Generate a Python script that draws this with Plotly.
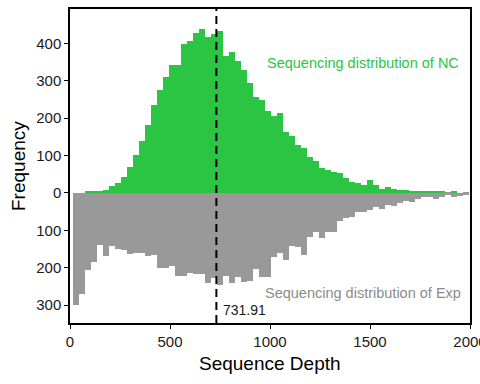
import plotly.graph_objects as go

bin_centers = list(range(30, 1981, 30))
nc_counts = [0, 0, 5, 3, 5, 8, 19, 27, 43, 70, 102, 139, 182, 235, 275, 310, 342, 342,
             398, 406, 428, 438, 417, 425, 433, 366, 377, 353, 329, 294, 257, 249, 219,
             206, 214, 163, 152, 128, 120, 96, 86, 67, 61, 56, 53, 40, 29, 27, 21, 35,
             21, 11, 16, 11, 8, 8, 5, 5, 5, 3, 3, 3, 0, 3, 0, 0]
exp_counts = [301, 270, 206, 184, 139, 168, 142, 149, 152, 163, 160, 160, 168, 166, 201,
              201, 195, 222, 222, 214, 217, 217, 241, 227, 246, 222, 241, 225, 238, 235,
              203, 225, 225, 171, 160, 179, 142, 144, 166, 118, 104, 120, 104, 104, 75,
              67, 64, 51, 51, 45, 37, 43, 32, 35, 27, 21, 24, 16, 11, 11, 16, 11, 5, 11,
              8, 5]
mean_depth = 731.91
y_tick_vals = [-300, -200, -100, 0, 100, 200, 300, 400]
y_tick_text = ["300", "200", "100", "0", "100", "200", "300", "400"]
x_tick_vals = [0, 500, 1000, 1500, 2000]

GREEN = "#2bc443"
GREY = "#999999"
FONT = "Liberation Sans, Arial, sans-serif"

fig = go.Figure()
fig.add_trace(go.Bar(x=bin_centers, y=nc_counts, width=30, marker_color=GREEN,
                     marker_line_width=0, name="NC"))
fig.add_trace(go.Bar(x=bin_centers, y=[-v for v in exp_counts], width=30, marker_color=GREY,
                     marker_line_width=0, name="Exp"))

fig.add_shape(type="line", x0=mean_depth, x1=mean_depth, y0=0, y1=1, yref="paper",
              line=dict(color="black", width=2, dash="8px,5px"))

fig.add_annotation(x=1955, y=348, text="Sequencing distribution of NC", showarrow=False,
                   xanchor="right", yanchor="middle", font=dict(color=GREEN, size=14.5, family=FONT))
fig.add_annotation(x=1965, y=-267, text="Sequencing distribution of Exp", showarrow=False,
                   xanchor="right", yanchor="middle", font=dict(color="#8c8c8c", size=14.5, family=FONT))
fig.add_annotation(x=mean_depth + 25, y=-313, text=f"{mean_depth}", showarrow=False,
                   xanchor="left", yanchor="middle", font=dict(color="#1a1a1a", size=14, family=FONT))

# axis titles
fig.add_annotation(x=0.5, y=-0.13, xref="paper", yref="paper", text="Sequence Depth",
                   showarrow=False, xanchor="center", yanchor="middle",
                   font=dict(size=19, color="black", family=FONT))
fig.add_annotation(x=-0.13, y=0.5, xref="paper", yref="paper", text="Frequency",
                   showarrow=False, textangle=-90, xanchor="center", yanchor="middle",
                   font=dict(size=19, color="black", family=FONT))

fig.update_layout(
    width=480, height=384,
    margin=dict(l=70, r=10, t=9, b=61),
    plot_bgcolor="white", paper_bgcolor="white",
    barmode="overlay", bargap=0, showlegend=False,
    font=dict(family=FONT, color="#1a1a1a"),
    xaxis=dict(range=[0, 2000], tickvals=x_tick_vals, ticks="outside", ticklen=4,
               tickcolor="black", showline=True, linecolor="black", linewidth=1.5,
               mirror=True, showgrid=False, zeroline=False, automargin=False,
               ticklabeloverflow="allow",
               tickfont=dict(size=15, color="#1a1a1a")),
    yaxis=dict(range=[-348, 492], tickvals=y_tick_vals, ticktext=y_tick_text, ticks="outside",
               ticklen=4, tickcolor="black", showline=True, linecolor="black", linewidth=1.5,
               mirror=True, showgrid=False, zeroline=False, automargin=False,
               tickfont=dict(size=15, color="#1a1a1a")),
)

fig.write_html("out.html", config={"displayModeBar": False},
               post_script="document.body.style.margin='0';document.body.style.overflow='hidden';")
